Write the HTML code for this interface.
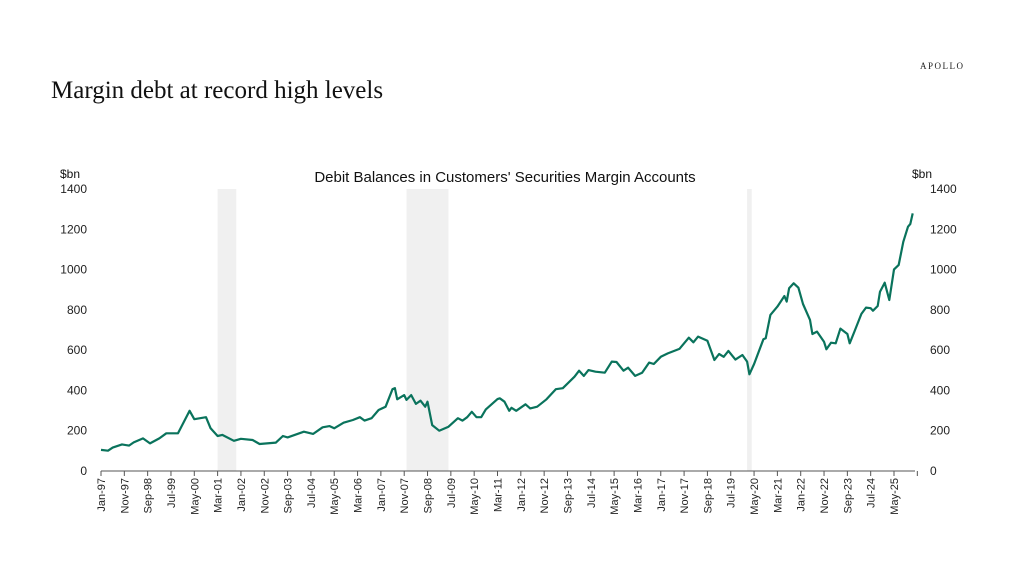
<!DOCTYPE html>
<html><head><meta charset="utf-8">
<style>
body{margin:0;background:#fff;width:1030px;height:579px;overflow:hidden;font-family:"Liberation Sans",sans-serif;}
svg{position:absolute;left:0;top:0}
</style></head>
<body>
<svg width="1030" height="579">
<text x="51" y="98" font-family="Liberation Serif, serif" font-size="25" fill="#111">Margin debt at record high levels</text>
<text x="920" y="69" font-family="Liberation Serif, serif" font-size="9" letter-spacing="1.5" fill="#222">APOLLO</text>
<text x="505" y="182" text-anchor="middle" font-size="15" fill="#111">Debit Balances in Customers' Securities Margin Accounts</text>
<text x="60" y="178" font-size="12" fill="#111">$bn</text>
<text x="912" y="178" font-size="12" fill="#111">$bn</text>
<g id="shade"></g><g id="axes"></g><g id="series"></g>
</svg>
<script>
const ns="http://www.w3.org/2000/svg";
const monthIdx=[0,3,5,9,12,14,18,21,25,28,33,38,40,45,47,50,52,57,60,65,68,75,78,80,87,91,95,98,100,104,108,111,113,116,119,122,125,126,127,130,131,133,135,137,139,140,142,145,149,153,155,157,159,161,163,165,170,171,173,175,176,178,182,184,187,191,195,198,203,205,207,209,212,216,219,221,224,226,229,232,235,237,240,243,248,252,254,256,260,263,265,267,269,272,275,277,278,280,284,285,287,290,293,294,295,297,299,301,304,305,307,310,311,313,315,317,320,321,323,326,328,330,331,333,334,336,338,340,342,344,346,347,348];
const debit=[105,101,116,132,126,142,162,137,162,187,187,299,257,267,212,174,179,150,160,154,134,141,174,167,195,184,217,223,212,240,253,267,250,262,303,319,406,411,356,377,353,377,333,349,319,344,228,200,220,262,250,267,294,267,267,306,357,361,344,299,314,299,331,311,319,356,406,411,468,498,472,501,493,488,543,541,498,513,472,488,538,531,567,584,606,662,639,667,647,551,581,567,596,553,576,543,480,531,654,659,775,816,869,841,907,932,910,829,750,680,692,642,604,637,634,707,680,634,692,780,811,808,796,819,890,935,849,1001,1023,1138,1213,1226,1279];
const tickLabels=["Jan-97","Nov-97","Sep-98","Jul-99","May-00","Mar-01","Jan-02","Nov-02","Sep-03","Jul-04","May-05","Mar-06","Jan-07","Nov-07","Sep-08","Jul-09","May-10","Mar-11","Jan-12","Nov-12","Sep-13","Jul-14","May-15","Mar-16","Jan-17","Nov-17","Sep-18","Jul-19","May-20","Mar-21","Jan-22","Nov-22","Sep-23","Jul-24","May-25"];
const yTicks=[0,200,400,600,800,1000,1200,1400];
const recessionStart=[50,131,277];
const recessionEnd=[58,149,279];
const X=m=>101+m*(814/349);
const Y=v=>471-v*(282/1400);
function mk(t,a,p){const e=document.createElementNS(ns,t);for(const k in a)e.setAttribute(k,a[k]);p.appendChild(e);return e;}
const sh=document.getElementById('shade'),ax=document.getElementById('axes'),se=document.getElementById('series');
recessionStart.forEach((s,i)=>{const r=mk('rect',{x:X(s),y:189,width:X(recessionEnd[i])-X(s),height:282,fill:'#f0f0f0'},sh);

});
const axl=mk('line',{x1:101,y1:471,x2:915,y2:471,stroke:'#555','stroke-width':1},ax);


for(let i=0;i<=35;i++){mk('line',{x1:X(i*10),y1:471,x2:X(i*10),y2:476,stroke:'#555'},ax);}
tickLabels.forEach((t,i)=>{const x=X(i*10)+4;const e=mk('text',{x:x,y:478,transform:`rotate(-90 ${x} 478)`,'text-anchor':'end','font-size':11,fill:'#222'},ax);e.textContent=t;

});
yTicks.forEach(v=>{const l=mk('text',{x:87,y:Y(v)+4,'text-anchor':'end','font-size':12,fill:'#222'},ax);l.textContent=v;


const r=mk('text',{x:930,y:Y(v)+4,'font-size':12,fill:'#222'},ax);r.textContent=v;

});
const d=monthIdx.map((m,i)=>(i?'L':'M')+X(m).toFixed(1)+','+Y(debit[i]).toFixed(1)).join('');
const p=mk('path',{d:d,fill:'none',stroke:'#0a735c','stroke-width':2.2,'stroke-linejoin':'round'},se);


</script>
</body></html>
